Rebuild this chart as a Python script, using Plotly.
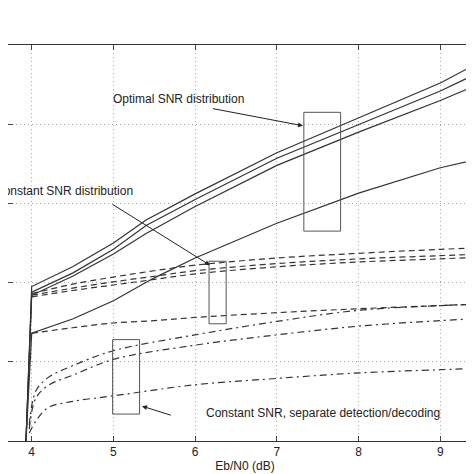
import plotly.graph_objects as go

x_sol = [3.93, 4.0, 4.5, 5.0, 5.4, 6.0, 7.0, 8.0, 9.0, 9.51]
sol1 = [0.0, 1.95, 2.2, 2.5, 2.79, 3.12, 3.64, 4.08, 4.52, 4.8]
sol2 = [0.0, 1.88, 2.12, 2.42, 2.72, 3.05, 3.57, 4.0, 4.42, 4.67]
sol3 = [0.0, 1.84, 2.08, 2.36, 2.62, 2.96, 3.48, 3.9, 4.3, 4.52]
x_sol4 = [3.93, 4.0, 4.5, 5.0, 5.5, 6.0, 7.0, 8.0, 9.0, 9.51]
sol4 = [0.0, 1.36, 1.54, 1.77, 2.06, 2.31, 2.75, 3.13, 3.45, 3.57]

x_d = [4.0, 4.5, 5.0, 5.5, 6.0, 7.0, 8.0, 9.0, 9.51]
dash1 = [1.86, 1.98, 2.07, 2.15, 2.22, 2.31, 2.37, 2.42, 2.44]
dash2 = [1.84, 1.93, 2.01, 2.08, 2.15, 2.24, 2.30, 2.34, 2.36]
dash3 = [1.82, 1.90, 1.97, 2.04, 2.11, 2.20, 2.26, 2.30, 2.32]
dash4 = [1.36, 1.43, 1.49, 1.52, 1.56, 1.62, 1.67, 1.71, 1.73]

x_dd = [3.97, 4.05, 4.2, 4.5, 5.0, 6.0, 7.0, 8.0, 9.0, 9.51]
dd1 = [0.2, 0.63, 0.8, 0.95, 1.14, 1.34, 1.51, 1.65, 1.71, 1.73]
dd2 = [0.15, 0.54, 0.7, 0.83, 1.03, 1.21, 1.34, 1.45, 1.52, 1.55]
dd3 = [0.1, 0.25, 0.42, 0.50, 0.57, 0.71, 0.79, 0.86, 0.9, 0.92]

c = "#333333"
fig = go.Figure()
for y in (sol1, sol2, sol3):
    fig.add_trace(go.Scatter(x=x_sol, y=y, mode="lines", line=dict(color=c, width=1.2)))
fig.add_trace(go.Scatter(x=x_sol4, y=sol4, mode="lines", line=dict(color=c, width=1.2)))
for y in (dash1, dash2, dash3, dash4):
    fig.add_trace(go.Scatter(x=x_d, y=y, mode="lines", line=dict(color=c, width=1.2, dash="6px,4px"), line_shape="spline"))
for y in (dd1, dd2, dd3):
    fig.add_trace(go.Scatter(x=x_dd, y=y, mode="lines", line=dict(color=c, width=1.2, dash="7px,4px,2px,4px"), line_shape="spline"))

for (x0, x1, y0, y1) in [(7.33, 7.78, 2.65, 4.15), (6.17, 6.38, 1.48, 2.27), (4.99, 5.32, 0.34, 1.28)]:
    fig.add_shape(type="rect", x0=x0, x1=x1, y0=y0, y1=y1, line=dict(color="#555", width=1))

fnt = dict(family="Liberation Sans, Arial", size=12, color="#222")
fig.add_annotation(x=5.8, y=4.32, text="Optimal SNR distribution", showarrow=False, font=fnt)
fig.add_annotation(x=7.32, y=3.98, ax=6.2, ay=4.2, axref="x", ayref="y", text="", showarrow=True,
                   arrowhead=2, arrowsize=1, arrowwidth=1, arrowcolor="#222")
fig.add_annotation(x=5.27, y=3.16, xanchor="right", text="Constant SNR distribution", showarrow=False, font=fnt)
fig.add_annotation(x=6.18, y=2.22, ax=4.97, ay=3.0, axref="x", ayref="y", text="", showarrow=True,
                   arrowhead=2, arrowsize=1, arrowwidth=1, arrowcolor="#222")
fig.add_annotation(x=7.57, y=0.35, text="Constant SNR, separate detection/decoding", showarrow=False, font=fnt)
fig.add_annotation(x=5.35, y=0.44, ax=5.72, ay=0.32, axref="x", ayref="y", text="", showarrow=True,
                   arrowhead=2, arrowsize=1, arrowwidth=1, arrowcolor="#222")

grid = dict(showgrid=True, gridcolor="#aaaaaa", griddash="1px,3px", gridwidth=1)
fig.update_layout(
    width=474, height=474, showlegend=False, plot_bgcolor="white", paper_bgcolor="white",
    margin=dict(l=0, r=0, t=37, b=41, pad=0),
    font=fnt,
    xaxis=dict(range=[3.71, 9.51], tickvals=[4, 5, 6, 7, 8, 9], ticks="inside", ticklen=5,
               showline=True, linecolor="#333", mirror="ticks", zeroline=False, automargin=False,
               title=dict(text="Eb/N0 (dB)", standoff=2, font=fnt), **grid),
    yaxis=dict(range=[0, 5], dtick=1, showticklabels=False, ticks="inside", ticklen=5,
               showline=True, linecolor="#333", mirror="ticks", zeroline=False, automargin=False, **grid),
)
fig.write_html("out.html")
